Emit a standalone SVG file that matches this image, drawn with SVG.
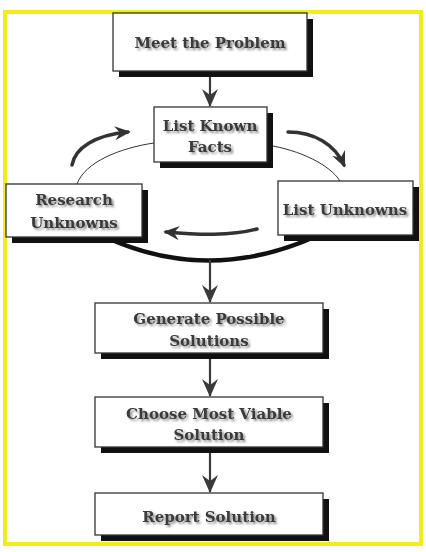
<svg xmlns="http://www.w3.org/2000/svg" width="426" height="552" viewBox="0 0 426 552">
<style>
.box{fill:#fff;stroke:#333;stroke-width:1.3}
.shd{fill:#111}
.lbl{font-family:"DejaVu Serif","Liberation Serif",serif;font-weight:bold;font-size:15px;fill:#3a3a3a;text-anchor:middle;filter:url(#ts)}
.conn{fill:none;stroke:#3a3a3a;stroke-width:2.2}
.thin{fill:none;stroke:#333;stroke-width:1}
.thick{fill:none;stroke:#111;stroke-width:4.5}
.curv{fill:none;stroke:#333;stroke-width:3.5;stroke-linecap:round}
</style>
<defs>
<filter id="ts" x="-10%" y="-30%" width="130%" height="170%">
<feGaussianBlur in="SourceAlpha" stdDeviation="1"/>
<feOffset dx="1.5" dy="1.5" result="b"/>
<feComponentTransfer><feFuncA type="linear" slope="0.45"/></feComponentTransfer>
<feMerge><feMergeNode/><feMergeNode in="SourceGraphic"/></feMerge>
</filter>
<marker id="ah" viewBox="0 0 18 16" refX="17" refY="8" markerWidth="18" markerHeight="16" markerUnits="userSpaceOnUse" orient="auto">
<path d="M0,0 L18,8 L0,16 L6,8 Z" fill="#3a3a3a"/>
</marker>
<marker id="ah2" viewBox="0 0 18 16" refX="15" refY="8" markerWidth="16" markerHeight="15" markerUnits="userSpaceOnUse" orient="auto">
<path d="M0,0 L18,8 L0,16 L6,8 Z" fill="#333"/>
</marker>
</defs>
<rect x="0" y="0" width="426" height="552" fill="#fff"/>
<rect x="5" y="12" width="416" height="532" fill="#fff" stroke="#f2ec1a" stroke-width="4"/>
<g id="connectors">
<path class="conn" d="M210,77 L210,106" marker-end="url(#ah)"/>
<path class="thin" d="M154,143 C120,148 85,162 77,184"/>
<path class="thin" d="M267,145 C300,150 330,165 340,181"/>
<path class="thick" d="M112,240 Q210,282 312,238"/>
<path class="curv" d="M72,165 C75,148 95,135 128,132" marker-end="url(#ah2)"/>
<path class="curv" d="M288,132 C315,132 335,145 344,165" marker-end="url(#ah2)"/>
<path class="curv" d="M257,229 C230,236 200,235 166,232" marker-end="url(#ah2)"/>
<path class="conn" d="M210,260 L210,302" marker-end="url(#ah)"/>
<path class="conn" d="M210,359 L210,396" marker-end="url(#ah)"/>
<path class="conn" d="M210,453 L210,492" marker-end="url(#ah)"/>
</g>
<g id="meet">
<rect class="shd" x="119" y="19" width="194" height="58"/>
<rect class="box" x="113" y="13" width="194" height="58"/>
<text class="lbl" x="210" y="48">Meet the Problem</text>
</g>
<g id="facts">
<rect class="shd" x="160" y="113" width="113" height="55"/>
<rect class="box" x="154" y="107" width="113" height="55"/>
<text class="lbl" x="210" y="131">List Known</text>
<text class="lbl" x="210" y="152">Facts</text>
</g>
<g id="research">
<rect class="shd" x="12" y="190" width="136" height="53"/>
<rect class="box" x="6" y="184" width="136" height="53"/>
<text class="lbl" x="74" y="205">Research</text>
<text class="lbl" x="74" y="228">Unknowns</text>
</g>
<g id="unknowns">
<rect class="shd" x="284" y="187" width="135" height="54"/>
<rect class="box" x="278" y="181" width="135" height="54"/>
<text class="lbl" x="345" y="215">List Unknowns</text>
</g>
<g id="generate">
<rect class="shd" x="101" y="309" width="228" height="50"/>
<rect class="box" x="95" y="303" width="228" height="50"/>
<text class="lbl" x="209" y="324">Generate Possible</text>
<text class="lbl" x="209" y="346">Solutions</text>
</g>
<g id="choose">
<rect class="shd" x="101" y="403" width="228" height="50"/>
<rect class="box" x="95" y="397" width="228" height="50"/>
<text class="lbl" x="209" y="419">Choose Most Viable</text>
<text class="lbl" x="209" y="440">Solution</text>
</g>
<g id="report">
<rect class="shd" x="101" y="499" width="228" height="42"/>
<rect class="box" x="95" y="493" width="228" height="42"/>
<text class="lbl" x="209" y="522">Report Solution</text>
</g>
</svg>
